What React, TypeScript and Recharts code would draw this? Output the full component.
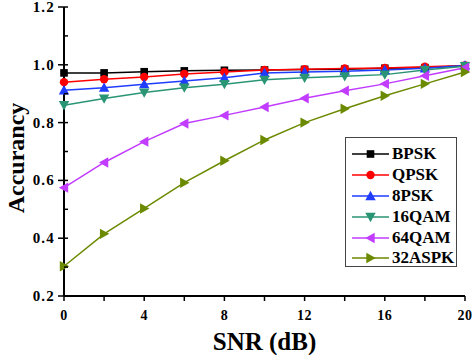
import React from 'react';
import { LineChart, Line, XAxis, YAxis, Label } from 'recharts';

const snr = [0, 2, 4, 6, 8, 10, 12, 14, 16, 18, 20];
const bpsk = [0.972, 0.972, 0.976, 0.979, 0.981, 0.982, 0.984, 0.985, 0.988, 0.99, 0.997];
const qpsk = [0.94, 0.95, 0.958, 0.968, 0.975, 0.982, 0.985, 0.987, 0.989, 0.993, 0.998];
const psk8 = [0.912, 0.921, 0.933, 0.944, 0.955, 0.972, 0.975, 0.978, 0.982, 0.988, 0.998];
const qam16 = [0.86, 0.883, 0.904, 0.921, 0.933, 0.948, 0.955, 0.96, 0.966, 0.982, 0.995];
const qam64 = [0.575, 0.662, 0.734, 0.797, 0.825, 0.854, 0.884, 0.91, 0.934, 0.962, 0.99];
const aspk32 = [0.303, 0.415, 0.503, 0.592, 0.668, 0.74, 0.8, 0.848, 0.893, 0.934, 0.975];

const xTicks = [0, 2, 4, 6, 8, 10, 12, 14, 16, 18, 20];
const xLabels = ['0', '4', '8', '12', '16', '20'];
const yTicks = [0.2, 0.3, 0.4, 0.5, 0.6, 0.7, 0.8, 0.9, 1.0, 1.1, 1.2];
const yLabels = ['0.2', '0.4', '0.6', '0.8', '1.0', '1.2'];

const FONT = '"Liberation Serif", "Times New Roman", serif';

const series = [
  { key: 'BPSK', data: bpsk, color: '#000000', shape: 'square' },
  { key: 'QPSK', data: qpsk, color: '#ff0000', shape: 'circle' },
  { key: '8PSK', data: psk8, color: '#1f3cff', shape: 'up' },
  { key: '16QAM', data: qam16, color: '#2a9574', shape: 'down' },
  { key: '64QAM', data: qam64, color: '#c13cff', shape: 'left' },
  { key: '32ASPK', data: aspk32, color: '#6b8a00', shape: 'right' },
];

const rows = snr.map((s, i) => {
  const r: any = { snr: s };
  series.forEach((se) => (r[se.key] = se.data[i]));
  return r;
});

function Marker({ shape, cx, cy, color }: any) {
  if (cx == null || cy == null) return null;
  const t = 5.2;
  switch (shape) {
    case 'square':
      return <rect x={cx - 3.8} y={cy - 3.8} width={7.6} height={7.6} fill={color} />;
    case 'circle':
      return <circle cx={cx} cy={cy} r={4.2} fill={color} />;
    case 'up':
      return <polygon points={`${cx},${cy - t} ${cx - t},${cy + t * 0.8} ${cx + t},${cy + t * 0.8}`} fill={color} />;
    case 'down':
      return <polygon points={`${cx},${cy + t} ${cx - t},${cy - t * 0.8} ${cx + t},${cy - t * 0.8}`} fill={color} />;
    case 'left':
      return <polygon points={`${cx - t},${cy} ${cx + t * 0.8},${cy - t} ${cx + t * 0.8},${cy + t}`} fill={color} />;
    case 'right':
      return <polygon points={`${cx + t},${cy} ${cx - t * 0.8},${cy - t} ${cx - t * 0.8},${cy + t}`} fill={color} />;
  }
  return null;
}

function XTick(props: any) {
  const { x, y, payload } = props;
  const label = String(payload.value);
  const major = xLabels.includes(label);
  return (
    <g>
      <line x1={x} y1={y} x2={x} y2={y + 5} stroke="#000" strokeWidth={1.5} />
      {major && (
        <text x={x} y={y + 24} textAnchor="middle" fontFamily={FONT} fontWeight="bold" fontSize={14} letterSpacing={0.5} fill="#000">
          {label}
        </text>
      )}
    </g>
  );
}

function YTick(props: any) {
  const { x, y, payload } = props;
  const label = Number(payload.value).toFixed(1);
  const major = yLabels.includes(label);
  return (
    <g>
      {major ? (
        <line x1={x - 6} y1={y} x2={x + 4} y2={y} stroke="#000" strokeWidth={1.5} />
      ) : (
        <line x1={x} y1={y} x2={x + 4} y2={y} stroke="#000" strokeWidth={1.5} />
      )}
      {major && (
        <text x={x - 9} y={y + 5} textAnchor="end" fontFamily={FONT} fontWeight="bold" fontSize={15} letterSpacing={1.2} fill="#000">
          {label}
        </text>
      )}
    </g>
  );
}

function LegendBox() {
  return (
    <div
      style={{
        position: 'absolute',
        left: 345,
        top: 137,
        width: 112,
        height: 130,
        boxSizing: 'border-box',
        border: '1px solid #444',
        background: '#fff',
        paddingTop: 6,
        paddingLeft: 6,
      }}
    >
      {series.map((s) => (
        <div key={s.key} style={{ display: 'flex', alignItems: 'center', height: 20.8 }}>
          <svg width={40} height={20} style={{ display: 'block' }}>
            <line x1={0} y1={10} x2={37} y2={10} stroke={s.color} strokeWidth={1.6} />
            <Marker shape={s.shape} cx={18.5} cy={10} color={s.color} />
          </svg>
          <span style={{ fontFamily: FONT, fontWeight: 'bold', fontSize: 17, color: '#000', lineHeight: '20px' }}>
            {s.key}
          </span>
        </div>
      ))}
    </div>
  );
}

export default function App() {
  return (
    <div style={{ position: 'absolute', left: 0, top: 0, width: 474, height: 355, background: '#fff', overflow: 'hidden' }}>
      <LineChart width={474} height={355} data={rows} margin={{ top: 7, right: 9, left: 0, bottom: 0 }}>
        <XAxis
          dataKey="snr"
          type="number"
          domain={[0, 20]}
          ticks={xTicks}
          interval={0}
          height={59}
          axisLine={{ stroke: '#000', strokeWidth: 2 }}
          tickLine={false}
          tickSize={0}
          tickMargin={0}
          tick={<XTick />}
        >
          <Label
            content={(p: any) => {
              const vb = p.viewBox || {};
              return (
                <text
                  x={vb.x + vb.width / 2}
                  y={vb.y + 54}
                  textAnchor="middle"
                  fontFamily={FONT}
                  fontWeight="bold"
                  fontSize={25}
                  fill="#000"
                >
                  SNR (dB)
                </text>
              );
            }}
          />
        </XAxis>
        <XAxis xAxisId="top" orientation="top" type="number" domain={[0, 20]} height={0} tick={false} tickLine={false} axisLine={{ stroke: '#000', strokeWidth: 2 }} />
        <YAxis
          type="number"
          domain={[0.2, 1.2]}
          ticks={yTicks}
          interval={0}
          width={64}
          axisLine={{ stroke: '#000', strokeWidth: 2 }}
          tickLine={false}
          tickSize={0}
          tickMargin={0}
          tick={<YTick />}
        >
          <Label
            content={() => {
              const cy = 158;
              return (
                <text
                  x={24}
                  y={cy}
                  transform={`rotate(-90, 24, ${cy})`}
                  textAnchor="middle"
                  fontFamily={FONT}
                  fontWeight="bold"
                  fontSize={24}
                  fill="#000"
                >
                  Accurancy
                </text>
              );
            }}
          />
        </YAxis>
        <YAxis yAxisId="right" orientation="right" type="number" domain={[0.2, 1.2]} width={0} tick={false} tickLine={false} axisLine={{ stroke: '#000', strokeWidth: 2 }} />
        {series.map((s) => (
          <Line
            key={s.key}
            dataKey={s.key}
            stroke={s.color}
            strokeWidth={1.5}
            isAnimationActive={false}
            dot={(p: any) => <Marker key={`${s.key}-${p.index}`} shape={s.shape} cx={p.cx} cy={p.cy} color={s.color} />}
            activeDot={false}
          />
        ))}
      </LineChart>
      <LegendBox />
    </div>
  );
}
